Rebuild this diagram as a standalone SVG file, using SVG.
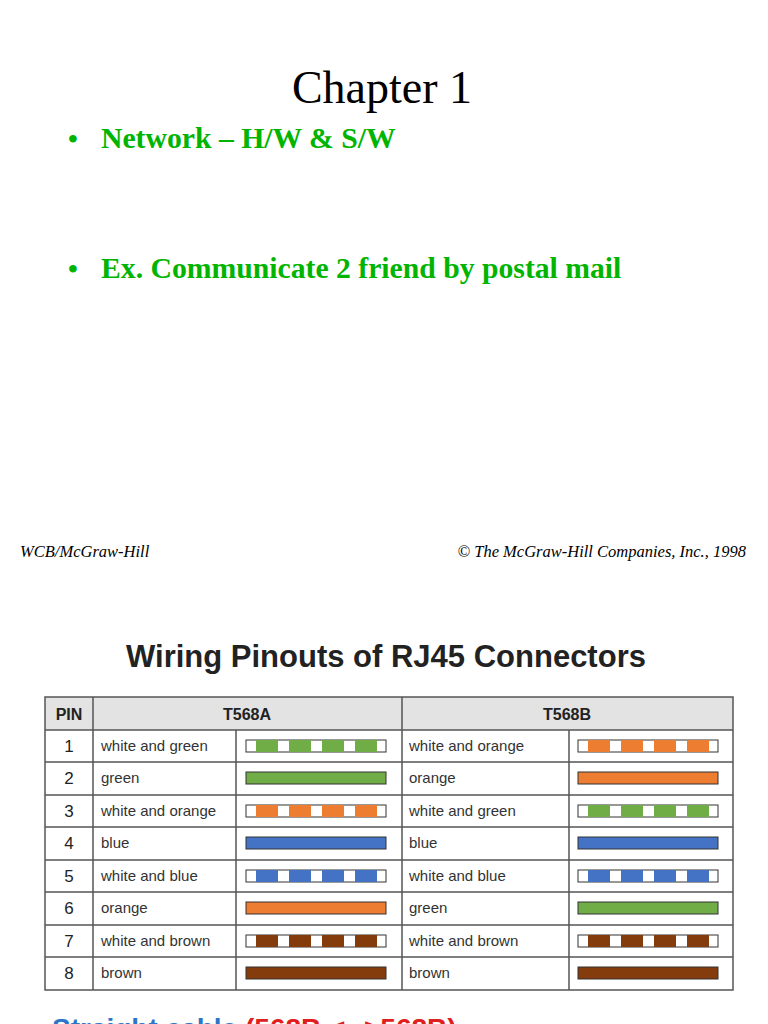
<svg xmlns="http://www.w3.org/2000/svg" xmlns:xlink="http://www.w3.org/1999/xlink" width="768" height="1024" viewBox="0 0 768 1024">
<style>
.b{font-family:"Liberation Serif",serif;font-weight:bold;font-size:29.7px;fill:#00b400}
.f{font-family:"Liberation Serif",serif;font-style:italic;font-size:16.5px;fill:#000}
.t{font-family:"Liberation Sans",sans-serif;font-size:15px;fill:#333}
.h{font-family:"Liberation Sans",sans-serif;font-size:16px;font-weight:bold;fill:#222}
.n{font-family:"Liberation Sans",sans-serif;font-size:17px;fill:#222;text-anchor:middle}
.g{stroke:#555;stroke-width:1.5;fill:none}
</style>
<defs>
<g id="s">
<rect x="0" y="0" width="140" height="12" fill="#fff" stroke="#333" stroke-width="1"/>
<rect x="10" y="0" width="22" height="12" fill="currentColor"/>
<rect x="43" y="0" width="22" height="12" fill="currentColor"/>
<rect x="76" y="0" width="22" height="12" fill="currentColor"/>
<rect x="109" y="0" width="22" height="12" fill="currentColor"/>
</g>
<rect id="p" x="0" y="0" width="140" height="12" fill="currentColor" stroke="#333" stroke-width="1"/>
</defs>
<rect width="768" height="1024" fill="#fff"/>
<text x="382" y="103" text-anchor="middle" font-family="Liberation Serif,serif" font-size="46">Chapter 1</text>
<text x="68" y="148" class="b" style="font-size:28px">•</text>
<text x="101" y="148" class="b">Network – H/W  &amp; S/W</text>
<text x="68" y="278" class="b" style="font-size:28px">•</text>
<text x="101" y="278" class="b">Ex. Communicate 2 friend by postal mail</text>
<text x="20" y="557" class="f">WCB/McGraw-Hill</text>
<text x="746" y="557" class="f" text-anchor="end">© The McGraw-Hill Companies, Inc., 1998</text>
<text x="386" y="667" text-anchor="middle" font-family="Liberation Sans,sans-serif" font-weight="bold" font-size="31" fill="#222">Wiring Pinouts of RJ45 Connectors</text>
<g id="table">
<rect x="45" y="697" width="688" height="33" fill="#e3e3e3"/>
<rect x="45" y="697" width="688" height="293" class="g"/>
<g class="g">
<line x1="45" y1="730" x2="733" y2="730"/><line x1="45" y1="762" x2="733" y2="762"/>
<line x1="45" y1="795" x2="733" y2="795"/><line x1="45" y1="827" x2="733" y2="827"/>
<line x1="45" y1="860" x2="733" y2="860"/><line x1="45" y1="892" x2="733" y2="892"/>
<line x1="45" y1="925" x2="733" y2="925"/><line x1="45" y1="957" x2="733" y2="957"/>
<line x1="93" y1="697" x2="93" y2="990"/><line x1="402" y1="697" x2="402" y2="990"/>
<line x1="236" y1="730" x2="236" y2="990"/><line x1="569" y1="730" x2="569" y2="990"/>
</g>
<text x="69" y="720" class="h" text-anchor="middle">PIN</text>
<text x="247" y="720" class="h" text-anchor="middle">T568A</text>
<text x="567" y="720" class="h" text-anchor="middle">T568B</text>
<g class="n"><text x="69" y="752">1</text><text x="69" y="784">2</text><text x="69" y="817">3</text><text x="69" y="849">4</text><text x="69" y="882">5</text><text x="69" y="914">6</text><text x="69" y="947">7</text><text x="69" y="979">8</text></g>
<g class="t">
<text x="101" y="751">white and green</text><text x="101" y="783">green</text><text x="101" y="816">white and orange</text><text x="101" y="848">blue</text><text x="101" y="881">white and blue</text><text x="101" y="913">orange</text><text x="101" y="946">white and brown</text><text x="101" y="978">brown</text>
<text x="409" y="751">white and orange</text><text x="409" y="783">orange</text><text x="409" y="816">white and green</text><text x="409" y="848">blue</text><text x="409" y="881">white and blue</text><text x="409" y="913">green</text><text x="409" y="946">white and brown</text><text x="409" y="978">brown</text>
</g>
<use xlink:href="#s" x="246" y="740" color="#70ad47"/>
<use xlink:href="#p" x="246" y="772" color="#70ad47"/>
<use xlink:href="#s" x="246" y="805" color="#ed7d31"/>
<use xlink:href="#p" x="246" y="837" color="#4472c4"/>
<use xlink:href="#s" x="246" y="870" color="#4472c4"/>
<use xlink:href="#p" x="246" y="902" color="#ed7d31"/>
<use xlink:href="#s" x="246" y="935" color="#843c0c"/>
<use xlink:href="#p" x="246" y="967" color="#843c0c"/>
<use xlink:href="#s" x="578" y="740" color="#ed7d31"/>
<use xlink:href="#p" x="578" y="772" color="#ed7d31"/>
<use xlink:href="#s" x="578" y="805" color="#70ad47"/>
<use xlink:href="#p" x="578" y="837" color="#4472c4"/>
<use xlink:href="#s" x="578" y="870" color="#4472c4"/>
<use xlink:href="#p" x="578" y="902" color="#70ad47"/>
<use xlink:href="#s" x="578" y="935" color="#843c0c"/>
<use xlink:href="#p" x="578" y="967" color="#843c0c"/>
</g>
<text x="52" y="1038" font-family="Liberation Sans,sans-serif" font-size="28" font-weight="bold"><tspan fill="#2e75c8">Straight cable </tspan><tspan fill="#e02020">(568B &lt;--&gt;568B)</tspan></text>
</svg>
